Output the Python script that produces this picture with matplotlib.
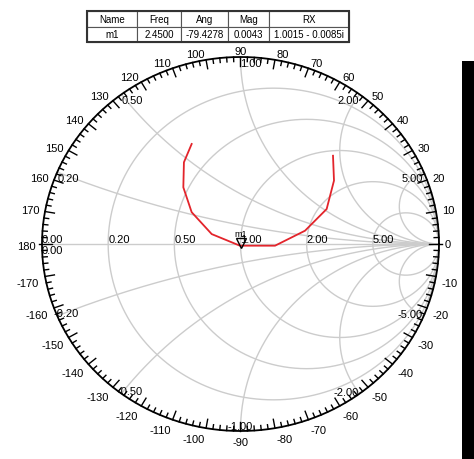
import numpy as np
import matplotlib
matplotlib.use("Agg")
from matplotlib import pyplot as plt
from matplotlib.patches import Rectangle

plt.rcParams['font.family'] = ['Liberation Sans', 'DejaVu Sans']

gamma_re = [-0.246, -0.285, -0.288, -0.246, -0.145, -0.003, 0.174, 0.325, 0.434, 0.471, 0.466]
gamma_im = [0.535, 0.437, 0.303, 0.170, 0.053, -0.009, -0.009, 0.071, 0.187, 0.339, 0.472]

# marker m1
marker_name = 'm1'
marker_z = 1.0015 - 0.0085j

table_cols = ['Name', 'Freq', 'Ang', 'Mag', 'RX']
table_row = ['m1', '2.4500', '-79.4278', '0.0043', '1.0015 - 0.0085i']

r_values = [0.0, 0.2, 0.5, 1.0, 2.0, 5.0]
r_labels = ['0.00', '0.20', '0.50', '1.00', '2.00', '5.00']
x_values = [0.2, 0.5, 1.0, 2.0, 5.0, -0.2, -0.5, -1.0, -2.0, -5.0]
x_labels = ['0.20', '0.50', '1.00', '2.00', '5.00', '-0.20', '-0.50', '-1.00', '-2.00', '-5.00']
angle_labels = list(range(-170, 190, 10))

W, H = 474, 460
fig = plt.figure(figsize=(W / 100, H / 100), dpi=100)
ax = fig.add_axes([0, 0, 1, 1])
ax.axis('off')
# chart centre at pixel (240.5, 245), radius 198.5 px wide, 187 px tall
cx, cy, rx, ry = 240.5, 245.0, 198.5, 187.0
ax.set_xlim(-cx / rx, (W - cx) / rx)
ax.set_ylim(-(H - cy) / ry, cy / ry)

grid = '#cccccc'
t = np.linspace(0, 2 * np.pi, 721)

# constant resistance circles
for r in r_values[1:]:
    c, rad = r / (1 + r), 1 / (1 + r)
    ax.plot(c + rad * np.cos(t), rad * np.sin(t), color=grid, lw=1, zorder=1)

# constant reactance arcs
rr = np.tan(np.linspace(0, np.pi / 2 - 1e-4, 2000))
for x in x_values:
    z = rr + 1j * x
    g = (z - 1) / (z + 1)
    ax.plot(g.real, g.imag, color=grid, lw=1, zorder=1)
ax.plot([-1, 1], [0, 0], color=grid, lw=1, zorder=1)

# outer circle and angle ticks
ax.plot(np.cos(t), np.sin(t), color='black', lw=1.3, zorder=3)
for a in range(0, 360, 2):
    th = np.radians(a)
    ln = 0.048 if a % 10 == 0 else 0.024
    outer = 1.0
    if a in (0, 180):
        outer = 1.015
    ax.plot([outer * np.cos(th), (1 - ln) * np.cos(th)],
            [outer * np.sin(th), (1 - ln) * np.sin(th)],
            color='black', lw=1, zorder=3)

for a in angle_labels:
    th = np.radians(a)
    c, s = np.cos(th), np.sin(th)
    ha = 'center' if abs(c) < 0.05 else ('left' if c > 0 else 'right')
    dy = 6 * s - (5 if a < 0 else 0)
    if a == 180:
        dy = -2
    ax.annotate(str(a), (c, s), xytext=(6 * c, dy), textcoords='offset pixels',
                ha=ha, va='center', fontsize=8, color='black')

# resistance labels on the real axis
for r, lab in zip(r_values, r_labels):
    ax.annotate(lab, ((r - 1) / (r + 1), 0), xytext=(0, 0), textcoords='offset pixels',
                ha='left', va='bottom', fontsize=8, color='black', zorder=4)
ax.annotate('0.00', (-1, 0), xytext=(0, -1), textcoords='offset pixels',
            ha='left', va='top', fontsize=8, color='black', zorder=4)

# reactance labels on the outer circle
for x, lab in zip(x_values, x_labels):
    g = (1j * x - 1) / (1j * x + 1)
    if x > 0:
        ha = 'left' if x <= 1 else 'right'
        va, off = 'top', (0 if x <= 1 else -1, -1)
    else:
        va = 'center'
        if x == -1:
            ha, off = 'center', (0, 5)
        elif x > -1:
            ha, off = 'left', (-4, 3)
        else:
            ha, off = 'right', (-1, 2)
    ax.annotate(lab, (g.real, g.imag), xytext=off, textcoords='offset pixels',
                ha=ha, va=va, fontsize=8, color='black', zorder=4)

# trace
ax.plot(gamma_re, gamma_im, color='#e3242b', lw=1.3, zorder=5)

# marker
gm = (marker_z - 1) / (marker_z + 1)
ax.plot(gm.real, gm.imag + 0.01, marker='v', ms=7, mfc='none', mec='black', mew=1, zorder=6)
ax.annotate(marker_name, (gm.real, gm.imag), xytext=(0, 11), textcoords='offset pixels',
            ha='center', va='center', fontsize=6.5, color='black', zorder=6)

# overlay in pixel coordinates for the table and the right-hand bar
ov = fig.add_axes([0, 0, 1, 1])
ov.set_xlim(0, W)
ov.set_ylim(H, 0)
ov.axis('off')
ov.patch.set_alpha(0)

widths = np.array([50, 44, 47, 41, 80], dtype=float)
tx0, ty0, tw, th_ = 87, 12, widths.sum(), 31
tbl = ov.table(cellText=[table_row], colLabels=table_cols, cellLoc='center',
               colWidths=list(widths / widths.sum()),
               bbox=[tx0 / W, 1 - (ty0 + th_) / H, tw / W, th_ / H])
tbl.auto_set_font_size(False)
tbl.set_fontsize(7)
for cell in tbl.get_celld().values():
    cell.set_edgecolor('#555555')
    cell.set_linewidth(0.8)
ov.add_patch(Rectangle((tx0, ty0), tw, th_, fill=False, ec='#333333', lw=1.5))

ov.add_patch(Rectangle((462, 62), 12, H - 62, fc='black', ec='none'))

fig.savefig('out.png', dpi=100)
